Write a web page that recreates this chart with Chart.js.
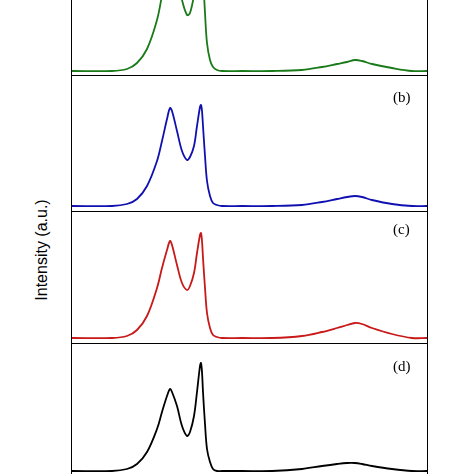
<!DOCTYPE html>
<html>
<head>
<script src="https://cdn.jsdelivr.net/npm/chart.js"></script>
<style>
body{margin:0;background:#fff;width:474px;height:474px;overflow:hidden;position:relative}
.panel{position:absolute;left:71px;width:355px;border:1px solid #000;box-sizing:content-box}
.panel canvas{display:block}
.tag{position:absolute;font-family:"Liberation Serif",serif;font-size:15px;color:#000}
#ytitle{position:absolute;left:42px;top:250px;transform:translate(-50%,-50%) rotate(-90deg);font-family:"Liberation Sans",Arial,sans-serif;font-size:16px;white-space:nowrap}
</style>
</head>
<body>
<div class="panel" style="top:-61px;height:135px"><canvas id="a"></canvas></div>
<div class="panel" style="top:75px;height:135px"><canvas id="b"></canvas></div>
<div class="panel" style="top:211px;height:131px"><canvas id="c"></canvas></div>
<div class="panel" style="top:343px;height:140px"><canvas id="d"></canvas></div>
<div class="tag" style="left:393px;top:89px">(b)</div>
<div class="tag" style="left:393px;top:221px">(c)</div>
<div class="tag" style="left:393px;top:358px">(d)</div>
<div id="ytitle">Intensity (a.u.)</div>
<script>
const shift = [0,40,55,65,75,85,90,95,98,100,105,110,115,118,122,125,128,129,130,131,133,135,138,141,145,150,170,200,230,250,265,275,283,290,300,320,340,355];
const seriesA = [4,4,6,12,26,55,80,110,125,122,100,75,60,62,80,105,128,130,122,100,62,32,15,8,5,4,4,4,5,8,11,13,15,14,11,7,4,4];
const seriesB = [5,5,7,12,25,50,70,92,103,100,80,60,51,54,65,85,104,106,100,85,55,30,15,8,6,5,5,5,6,9,12,14,15,14,11,7,5,5];
const seriesC = [5,5,7,13,27,55,75,93,102,98,78,60,53,57,70,90,108,110,102,85,55,30,15,8,6,5,5,5,7,11,15,18,20,19,15,9,5,5];
const seriesD = [13,13,15,20,32,55,72,88,95,92,78,58,48,52,68,92,118,121,112,92,60,35,22,15,13,13,13,13,15,18,20,21,21,20,18,15,13,13];
const panels = [['a',seriesA,'#1a7a1a',135],['b',seriesB,'#1010b0',135],['c',seriesC,'#c81818',131],['d',seriesD,'#000000',140]];
panels.forEach(([id,vals,col,h]) => {
  const cv = document.getElementById(id);
  cv.width = 355; cv.height = h;
  new Chart(cv, {
    type: 'line',
    data: { datasets: [{ data: shift.map((x,i) => ({x:x, y:vals[i]})), borderColor: col, borderWidth: 1.8, pointRadius: 0, tension: 0.35, fill: false }] },
    options: {
      responsive: false, animation: false,
      layout: { padding: 0 },
      plugins: { legend: { display: false }, tooltip: { enabled: false } },
      scales: {
        x: { type: 'linear', min: 0, max: 355, display: false },
        y: { min: 0, max: h, display: false }
      }
    }
  });
});
</script>
</body>
</html>
